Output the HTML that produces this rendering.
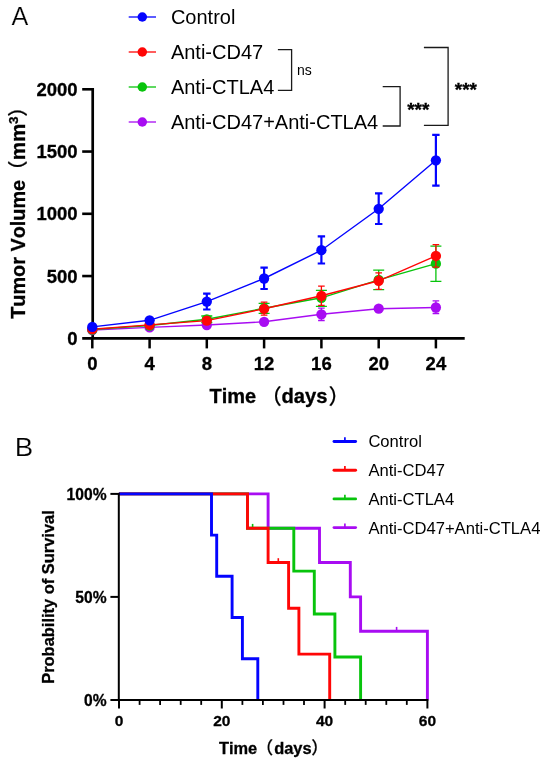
<!DOCTYPE html>
<html lang="en"><head><meta charset="utf-8"><title>Figure</title>
<style>html,body{margin:0;padding:0;background:#fff}body{width:550px;height:764px;overflow:hidden}svg{display:block}text{font-kerning:none;font-family:"Liberation Sans","Noto Sans CJK SC",sans-serif;fill:#000}.b{font-weight:bold;fill:#000;stroke:#000;stroke-width:0.3px}.cj{font-family:"Noto Sans CJK SC","Liberation Sans",sans-serif;font-weight:500;fill:#000;stroke-width:0.2px}.lt{stroke:#fff;stroke-width:0.22px}</style></head><body>
<svg width="550" height="764" viewBox="0 0 550 764">
<rect width="550" height="764" fill="#fff"/>
<text class="lt" transform="translate(11.6,24.9) scale(1.0,1)" font-size="25.2">A</text>
<line x1="128.7" x2="156" y1="17" y2="17" stroke="#0404ff" stroke-width="1.3"/>
<circle cx="142.3" cy="17" r="4.75" fill="#0404ff"/>
<text x="170.9" y="24.2" font-size="20">Control</text>
<line x1="128.7" x2="156" y1="52" y2="52" stroke="#ff0606" stroke-width="1.3"/>
<circle cx="142.3" cy="52" r="4.75" fill="#ff0606"/>
<text x="170.9" y="59.2" font-size="20">Anti-CD47</text>
<line x1="128.7" x2="156" y1="87" y2="87" stroke="#08c40c" stroke-width="1.3"/>
<circle cx="142.3" cy="87" r="4.75" fill="#08c40c"/>
<text x="170.9" y="94.2" font-size="20">Anti-CTLA4</text>
<line x1="128.7" x2="156" y1="122" y2="122" stroke="#a80cf2" stroke-width="1.3"/>
<circle cx="142.3" cy="122" r="4.75" fill="#a80cf2"/>
<text x="170.9" y="129.2" font-size="20">Anti-CD47+Anti-CTLA4</text>
<path d="M277.9,49.6H291.6V90.4H277.9" fill="none" stroke="#1a1a1a" stroke-width="1.3"/>
<path d="M382.7,86.7H400.1V126H382.7" fill="none" stroke="#1a1a1a" stroke-width="1.3"/>
<path d="M423.9,47.5H448.1V125.4H423.9" fill="none" stroke="#1a1a1a" stroke-width="1.3"/>
<text x="297" y="75" font-size="14">ns</text>
<text class="b" x="407.2" y="116.2" font-size="19">***</text>
<text class="b" x="454.8" y="96.2" font-size="19">***</text>
<line x1="92.7" x2="92.7" y1="88.00" y2="338.3" stroke="#000" stroke-width="2.7"/>
<line x1="82.2" x2="464.7" y1="338.3" y2="338.3" stroke="#000" stroke-width="2.7"/>
<text class="b" x="77.6" y="344.9" font-size="18.5" text-anchor="end">0</text>
<line x1="82.2" x2="92.7" y1="276.05" y2="276.05" stroke="#000" stroke-width="2.6"/>
<text class="b" x="77.6" y="282.7" font-size="18.5" text-anchor="end">500</text>
<line x1="82.2" x2="92.7" y1="213.80" y2="213.80" stroke="#000" stroke-width="2.6"/>
<text class="b" x="77.6" y="220.4" font-size="18.5" text-anchor="end">1000</text>
<line x1="82.2" x2="92.7" y1="151.55" y2="151.55" stroke="#000" stroke-width="2.6"/>
<text class="b" x="77.6" y="158.2" font-size="18.5" text-anchor="end">1500</text>
<line x1="82.2" x2="92.7" y1="89.30" y2="89.30" stroke="#000" stroke-width="2.6"/>
<text class="b" x="77.6" y="95.9" font-size="18.5" text-anchor="end">2000</text>
<line x1="92.3" x2="92.3" y1="338.3" y2="348.4" stroke="#000" stroke-width="2.5"/>
<text class="b" x="92.3" y="370.3" font-size="18.5" text-anchor="middle">0</text>
<line x1="149.6" x2="149.6" y1="338.3" y2="348.4" stroke="#000" stroke-width="2.5"/>
<text class="b" x="149.6" y="370.3" font-size="18.5" text-anchor="middle">4</text>
<line x1="206.8" x2="206.8" y1="338.3" y2="348.4" stroke="#000" stroke-width="2.5"/>
<text class="b" x="206.8" y="370.3" font-size="18.5" text-anchor="middle">8</text>
<line x1="264.1" x2="264.1" y1="338.3" y2="348.4" stroke="#000" stroke-width="2.5"/>
<text class="b" x="264.1" y="370.3" font-size="18.5" text-anchor="middle">12</text>
<line x1="321.4" x2="321.4" y1="338.3" y2="348.4" stroke="#000" stroke-width="2.5"/>
<text class="b" x="321.4" y="370.3" font-size="18.5" text-anchor="middle">16</text>
<line x1="378.7" x2="378.7" y1="338.3" y2="348.4" stroke="#000" stroke-width="2.5"/>
<text class="b" x="378.7" y="370.3" font-size="18.5" text-anchor="middle">20</text>
<line x1="435.9" x2="435.9" y1="338.3" y2="348.4" stroke="#000" stroke-width="2.5"/>
<text class="b" x="435.9" y="370.3" font-size="18.5" text-anchor="middle">24</text>
<text class="b" font-size="20" y="403.4"><tspan x="209.5">Time</tspan><tspan class="cj" x="260.8" dy="0.6" font-size="21">（</tspan><tspan x="281.5" dy="-0.6" font-size="20.2">days</tspan><tspan class="cj" x="328.4" dy="0.6" font-size="21">）</tspan></text>
<g transform="translate(24.9,318.8) rotate(-90)"><text class="b" font-size="19.85" y="0"><tspan x="0">Tumor Volume</tspan><tspan class="cj" x="138.2" font-size="20">（</tspan><tspan x="158.5" font-size="20.6">mm</tspan><tspan x="194.8" dy="-7.2" font-size="13.6">3</tspan><tspan class="cj" x="202" dy="7.2" font-size="20">）</tspan></text></g>
<path d="M321.4,308.2V320.5M318.1,308.2h6.6M318.1,320.5h6.6" fill="none" stroke="#a80cf2" stroke-width="1.3"/>
<path d="M435.9,300.9V313.5M432.6,300.9h6.6M432.6,313.5h6.6" fill="none" stroke="#a80cf2" stroke-width="1.3"/>
<polyline points="92.3,330.0 149.6,327.4 206.8,325.0 264.1,321.8 321.4,314.3 378.7,308.7 435.9,307.5" fill="none" stroke="#a80cf2" stroke-width="1.4"/>
<circle cx="92.3" cy="330.0" r="5.15" fill="#a80cf2"/>
<circle cx="149.6" cy="327.4" r="5.15" fill="#a80cf2"/>
<circle cx="206.8" cy="325.0" r="5.15" fill="#a80cf2"/>
<circle cx="264.1" cy="321.8" r="5.15" fill="#a80cf2"/>
<circle cx="321.4" cy="314.3" r="5.15" fill="#a80cf2"/>
<circle cx="378.7" cy="308.7" r="5.15" fill="#a80cf2"/>
<circle cx="435.9" cy="307.5" r="5.15" fill="#a80cf2"/>
<path d="M206.8,316V322.5M201.3,316h11M201.3,322.5h11" fill="none" stroke="#08c40c" stroke-width="1.3"/>
<path d="M264.1,303.4V313.3M258.6,303.4h11M258.6,313.3h11" fill="none" stroke="#08c40c" stroke-width="1.3"/>
<path d="M321.4,290.3V306.4M315.9,290.3h11M315.9,306.4h11" fill="none" stroke="#08c40c" stroke-width="1.3"/>
<path d="M378.7,270.2V289.6M373.2,270.2h11M373.2,289.6h11" fill="none" stroke="#08c40c" stroke-width="1.3"/>
<path d="M435.9,246.2V281.3M430.4,246.2h11M430.4,281.3h11" fill="none" stroke="#08c40c" stroke-width="1.3"/>
<polyline points="92.3,329.5 149.6,325.5 206.8,319.3 264.1,308.3 321.4,297.8 378.7,279.9 435.9,263.7" fill="none" stroke="#08c40c" stroke-width="1.4"/>
<circle cx="92.3" cy="329.5" r="5.15" fill="#08c40c"/>
<circle cx="149.6" cy="325.5" r="5.15" fill="#08c40c"/>
<circle cx="206.8" cy="319.3" r="5.15" fill="#08c40c"/>
<circle cx="264.1" cy="308.3" r="5.15" fill="#08c40c"/>
<circle cx="321.4" cy="297.8" r="5.15" fill="#08c40c"/>
<circle cx="378.7" cy="279.9" r="5.15" fill="#08c40c"/>
<circle cx="435.9" cy="263.7" r="5.15" fill="#08c40c"/>
<path d="M206.8,317.5V323.5M203.5,317.5h6.6M203.5,323.5h6.6" fill="none" stroke="#ff0606" stroke-width="1.3"/>
<path d="M264.1,302.1V315.1M260.8,302.1h6.6M260.8,315.1h6.6" fill="none" stroke="#ff0606" stroke-width="1.3"/>
<path d="M321.4,286.2V305.4M318.1,286.2h6.6M318.1,305.4h6.6" fill="none" stroke="#ff0606" stroke-width="1.3"/>
<path d="M378.7,272.9V289.4M375.4,272.9h6.6M375.4,289.4h6.6" fill="none" stroke="#ff0606" stroke-width="1.3"/>
<path d="M435.9,244.6V267.2M432.6,244.6h6.6M432.6,267.2h6.6" fill="none" stroke="#ff0606" stroke-width="1.3"/>
<polyline points="92.3,329.2 149.6,324.9 206.8,320.6 264.1,308.8 321.4,295.8 378.7,280.8 435.9,255.9" fill="none" stroke="#ff0606" stroke-width="1.4"/>
<circle cx="92.3" cy="329.2" r="5.15" fill="#ff0606"/>
<circle cx="149.6" cy="324.9" r="5.15" fill="#ff0606"/>
<circle cx="206.8" cy="320.6" r="5.15" fill="#ff0606"/>
<circle cx="264.1" cy="308.8" r="5.15" fill="#ff0606"/>
<circle cx="321.4" cy="295.8" r="5.15" fill="#ff0606"/>
<circle cx="378.7" cy="280.8" r="5.15" fill="#ff0606"/>
<circle cx="435.9" cy="255.9" r="5.15" fill="#ff0606"/>
<path d="M206.8,293.6V309.5M203.1,293.6h7.4M203.1,309.5h7.4" fill="none" stroke="#0404ff" stroke-width="2.2"/>
<path d="M264.1,267.7V289M260.4,267.7h7.4M260.4,289h7.4" fill="none" stroke="#0404ff" stroke-width="2.2"/>
<path d="M321.4,236.3V263.5M317.7,236.3h7.4M317.7,263.5h7.4" fill="none" stroke="#0404ff" stroke-width="2.2"/>
<path d="M378.7,193.4V224M375.0,193.4h7.4M375.0,224h7.4" fill="none" stroke="#0404ff" stroke-width="2.2"/>
<path d="M435.9,134.9V185.7M432.2,134.9h7.4M432.2,185.7h7.4" fill="none" stroke="#0404ff" stroke-width="2.2"/>
<polyline points="92.3,326.9 149.6,320.3 206.8,301.6 264.1,278.5 321.4,250.2 378.7,208.8 435.9,160.3" fill="none" stroke="#0404ff" stroke-width="1.4"/>
<circle cx="92.3" cy="326.9" r="5.15" fill="#0404ff"/>
<circle cx="149.6" cy="320.3" r="5.15" fill="#0404ff"/>
<circle cx="206.8" cy="301.6" r="5.15" fill="#0404ff"/>
<circle cx="264.1" cy="278.5" r="5.15" fill="#0404ff"/>
<circle cx="321.4" cy="250.2" r="5.15" fill="#0404ff"/>
<circle cx="378.7" cy="208.8" r="5.15" fill="#0404ff"/>
<circle cx="435.9" cy="160.3" r="5.15" fill="#0404ff"/>
<text class="lt" transform="translate(14.8,456.2) scale(1.1,1)" font-size="25.2">B</text>
<line x1="334" x2="355.6" y1="441.5" y2="441.5" stroke="#0404ff" stroke-width="2.9" stroke-linecap="round"/>
<line x1="344.9" x2="344.9" y1="437.3" y2="441.5" stroke="#0404ff" stroke-width="1.7"/>
<text x="368.4" y="447.4" font-size="16.6">Control</text>
<line x1="334" x2="355.6" y1="470.2" y2="470.2" stroke="#ff0606" stroke-width="2.9" stroke-linecap="round"/>
<line x1="344.9" x2="344.9" y1="466.0" y2="470.2" stroke="#ff0606" stroke-width="1.7"/>
<text x="368.4" y="476.1" font-size="16.6">Anti-CD47</text>
<line x1="334" x2="355.6" y1="498.9" y2="498.9" stroke="#08c40c" stroke-width="2.9" stroke-linecap="round"/>
<line x1="344.9" x2="344.9" y1="494.7" y2="498.9" stroke="#08c40c" stroke-width="1.7"/>
<text x="368.4" y="504.8" font-size="16.6">Anti-CTLA4</text>
<line x1="334" x2="355.6" y1="527.6" y2="527.6" stroke="#a80cf2" stroke-width="2.9" stroke-linecap="round"/>
<line x1="344.9" x2="344.9" y1="523.4" y2="527.6" stroke="#a80cf2" stroke-width="1.7"/>
<text x="368.4" y="533.5" font-size="16.6">Anti-CD47+Anti-CTLA4</text>
<path d="M119.0,493.9H268.1V528.2H319.5V562.5H350.3V596.9H360.6V631.2H427.4V699.9" fill="none" stroke="#a80cf2" stroke-width="2.9" stroke-linejoin="miter"/>
<line x1="396.6" x2="396.6" y1="626.9" y2="631.2" stroke="#a80cf2" stroke-width="1.6"/>
<path d="M119.0,493.9H247.5V528.2H293.8V571.1H314.3V614.0H334.9V657.0H360.6V699.9" fill="none" stroke="#08c40c" stroke-width="2.9" stroke-linejoin="miter"/>
<line x1="252.6" x2="252.6" y1="523.9" y2="528.2" stroke="#08c40c" stroke-width="1.6"/>
<path d="M119.0,493.9H247.5V528.2H268.1V562.5H288.6V608.3H298.9V654.1H329.7V699.9" fill="none" stroke="#ff0606" stroke-width="2.9" stroke-linejoin="miter"/>
<line x1="278.3" x2="278.3" y1="558.2" y2="562.5" stroke="#ff0606" stroke-width="1.6"/>
<path d="M119.0,493.9H211.5V535.1H216.7V576.3H232.1V617.5H242.4V658.7H257.8V699.9" fill="none" stroke="#0404ff" stroke-width="2.9" stroke-linejoin="miter"/>
<line x1="118.8" x2="118.8" y1="492.85" y2="699.9" stroke="#000" stroke-width="2"/>
<line x1="110.4" x2="428.3" y1="699.9" y2="699.9" stroke="#000" stroke-width="2"/>
<line x1="110.4" x2="118.8" y1="493.9" y2="493.9" stroke="#000" stroke-width="2"/>
<text class="b" x="106.5" y="499.6" font-size="15.6" text-anchor="end">100%</text>
<line x1="110.4" x2="118.8" y1="596.9" y2="596.9" stroke="#000" stroke-width="2"/>
<text class="b" x="106.5" y="602.6" font-size="15.6" text-anchor="end">50%</text>
<text class="b" x="106.5" y="705.6" font-size="15.6" text-anchor="end">0%</text>
<line x1="119.0" x2="119.0" y1="699.9" y2="708.5" stroke="#000" stroke-width="2"/>
<text class="b" x="119.0" y="726.2" font-size="15.5" text-anchor="middle">0</text>
<line x1="139.6" x2="139.6" y1="699.9" y2="704.9" stroke="#000" stroke-width="1.8"/>
<line x1="160.1" x2="160.1" y1="699.9" y2="704.9" stroke="#000" stroke-width="1.8"/>
<line x1="180.7" x2="180.7" y1="699.9" y2="704.9" stroke="#000" stroke-width="1.8"/>
<line x1="201.2" x2="201.2" y1="699.9" y2="704.9" stroke="#000" stroke-width="1.8"/>
<line x1="221.8" x2="221.8" y1="699.9" y2="708.5" stroke="#000" stroke-width="2"/>
<text class="b" x="221.8" y="726.2" font-size="15.5" text-anchor="middle">20</text>
<line x1="242.4" x2="242.4" y1="699.9" y2="704.9" stroke="#000" stroke-width="1.8"/>
<line x1="262.9" x2="262.9" y1="699.9" y2="704.9" stroke="#000" stroke-width="1.8"/>
<line x1="283.5" x2="283.5" y1="699.9" y2="704.9" stroke="#000" stroke-width="1.8"/>
<line x1="304.0" x2="304.0" y1="699.9" y2="704.9" stroke="#000" stroke-width="1.8"/>
<line x1="324.6" x2="324.6" y1="699.9" y2="708.5" stroke="#000" stroke-width="2"/>
<text class="b" x="324.6" y="726.2" font-size="15.5" text-anchor="middle">40</text>
<line x1="345.2" x2="345.2" y1="699.9" y2="704.9" stroke="#000" stroke-width="1.8"/>
<line x1="365.7" x2="365.7" y1="699.9" y2="704.9" stroke="#000" stroke-width="1.8"/>
<line x1="386.3" x2="386.3" y1="699.9" y2="704.9" stroke="#000" stroke-width="1.8"/>
<line x1="406.8" x2="406.8" y1="699.9" y2="704.9" stroke="#000" stroke-width="1.8"/>
<line x1="427.4" x2="427.4" y1="699.9" y2="708.5" stroke="#000" stroke-width="2"/>
<text class="b" x="427.4" y="726.2" font-size="15.5" text-anchor="middle">60</text>
<text class="b" font-size="16.4" y="754"><tspan x="218.9">Time</tspan><tspan class="cj" x="256" dy="0.4" font-size="17.2">（</tspan><tspan x="274.2" dy="-0.4">days</tspan><tspan class="cj" x="311.2" dy="0.4" font-size="17.2">）</tspan></text>
<g transform="translate(53.6,683.8) rotate(-90)"><text class="b" font-size="16.45" x="0" y="0">Probability of Survival</text></g>
</svg></body></html>
